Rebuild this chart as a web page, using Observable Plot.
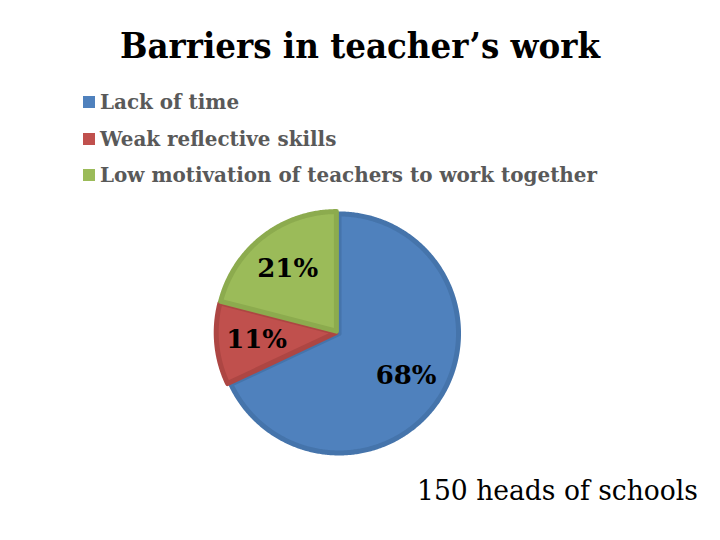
<!DOCTYPE html>
<html><head><meta charset="utf-8">
<script src="https://cdn.jsdelivr.net/npm/d3@7"></script>
<script src="https://cdn.jsdelivr.net/npm/@observablehq/plot@0.6"></script>
<style>
body{margin:0;background:#fff;}
#wrap{position:relative;width:720px;height:540px;overflow:hidden;background:#fff;}
#wrap svg{position:absolute;left:0;top:0;}
.t{position:absolute;white-space:nowrap;line-height:1;transform-origin:0 0;font-family:"DejaVu Serif","Liberation Serif",serif;}
.sw{position:absolute;width:12px;height:12px;}
</style></head><body>
<div id="wrap"></div>
<script>
const categories = ["Lack of time", "Weak reflective skills", "Low motivation of teachers to work together"];
const shares = [68, 11, 21];
const shareLabels = ["68%", "11%", "21%"];
const titleText = "Barriers in teacher’s work";
const captionText = "150 heads of schools";

const palette = ["#4f81bd", "#c0504d", "#9bbb59"];
const edgePalette = ["#4574ab", "#ad4643", "#8cab4e"];

const arcs = d3.pie().sort(null).value(d => d)(shares);
const explode = 0.015;
const pts = [];
arcs.forEach((p, i) => {
  const cat = categories[i];
  const mid = (p.startAngle + p.endAngle) / 2;
  const ox = explode * Math.sin(mid), oy = explode * Math.cos(mid);
  pts.push({cat, x: ox, y: oy});
  const n = Math.max(4, Math.ceil((p.endAngle - p.startAngle) / 0.01));
  for (let k = 0; k <= n; k++) {
    const a = p.startAngle + (p.endAngle - p.startAngle) * k / n;
    pts.push({cat, x: ox + Math.sin(a), y: oy + Math.cos(a)});
  }
  pts.push({cat, x: ox, y: oy});
});
const labelData = arcs.map((p, i) => {
  const mid = (p.startAngle + p.endAngle) / 2;
  return {text: shareLabels[i], x: 0.68 * Math.sin(mid), y: 0.68 * Math.cos(mid)};
});

const cx = 337, cy = 332, rp = 119.5;
const chart = Plot.plot({
  width: 720, height: 540,
  marginLeft: cx - rp, marginRight: 720 - (cx + rp),
  marginTop: cy - rp, marginBottom: 540 - (cy + rp),
  x: {domain: [-1, 1], axis: null},
  y: {domain: [-1, 1], axis: null},
  color: {domain: categories, range: palette},
  style: {background: "transparent", overflow: "visible"},
  marks: [
    Plot.line(pts, {x: "x", y: "y", z: "cat", fill: "cat", stroke: "none", curve: "linear"}),
    ...categories.map((c, i) => Plot.line(pts.filter(d => d.cat === c), {x: "x", y: "y", stroke: edgePalette[i], strokeWidth: 5, strokeLinejoin: "round", fill: "none"})),
    Plot.text(labelData, {x: "x", y: "y", text: "text", fontSize: 26, fontWeight: "bold", fontFamily: "DejaVu Serif, Liberation Serif, serif", fill: "#000"})
  ]
});
const wrap = document.getElementById("wrap");
wrap.appendChild(chart);

function addText(txt, left, baseline, size, weight, color) {
  const d = document.createElement("div");
  d.className = "t";
  d.textContent = txt;
  d.style.left = left + "px";
  d.style.top = (baseline - 0.846 * size) + "px";
  d.style.fontSize = size + "px";
  d.style.fontWeight = weight;
  d.style.color = color;
  wrap.appendChild(d);
  return d;
}
function fitWidth(el, w) {
  const m = el.getBoundingClientRect().width;
  if (m > 0) el.style.transform = `scaleX(${w / m})`;
}
const title = addText(titleText, 120, 57, 36, "bold", "#000");
fitWidth(title, 480);

const legendEls = categories.map((c, i) => {
  const base = 109 + i * 36.5;
  const s = document.createElement("div");
  s.className = "sw";
  s.style.left = "83px";
  s.style.top = (base - 13) + "px";
  s.style.background = palette[i];
  wrap.appendChild(s);
  return addText(c, 100, base, 20, "bold", "#595959");
});
const f = legendEls[2].getBoundingClientRect().width;
const k = 497 / f;
legendEls.forEach(el => el.style.transform = `scaleX(${k})`);

const cap = addText(captionText, 417, 500, 27, "normal", "#000");
fitWidth(cap, 281);
</script>
</body></html>
